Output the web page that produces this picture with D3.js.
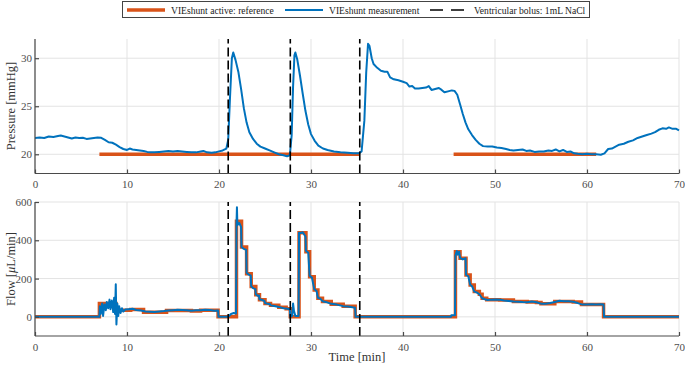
<!DOCTYPE html>
<html><head><meta charset="utf-8">
<script src="https://cdn.jsdelivr.net/npm/d3@7"></script>
<style>
body{margin:0;background:#fff;}
svg text{font-family:"Liberation Serif","Times New Roman",serif !important;}
</style></head>
<body><svg id="c" width="685" height="365"></svg>
<script>
const xTicks=[0,10,20,30,40,50,60,70];
const pTicks=[20,25,30];
const fTicks=[0,200,400,600];
const boluses=[21,27.75,35.3];
const legendLabels=["VIEshunt active: reference","VIEshunt measurement","Ventricular bolus: 1mL NaCl"];
// reference pressure segments (active periods)
const refPStart=[7,45.5];
const refPEnd=[35.3,61];
const refPLevel=[20,20];
// measured pressure
const pT=[0,0.5,1,1.5,2,2.5,2.8,3.2,3.6,4,4.4,4.8,5.2,5.6,6,6.4,6.8,7.2,7.6,8,8.4,8.8,9.2,9.6,10,10.3,10.6,11,11.4,11.8,12.2,12.6,13,13.5,14,14.5,15,15.5,16,16.5,17,17.5,18,18.3,18.7,19.2,19.6,20,20.4,20.8,21.0,21.2,21.4,21.55,21.8,22.1,22.4,22.7,23.0,23.3,23.7,24.1,24.5,25,25.5,26,26.5,27,27.4,27.7,27.9,28.05,28.2,28.3,28.5,28.8,29.1,29.4,29.7,30,30.4,30.8,31.3,31.8,32.5,33.2,34,34.6,35.2,35.5,35.8,36.0,36.2,36.35,36.6,36.8,37.2,37.6,38.0,38.3,38.6,39.0,39.5,40.0,40.4,40.7,41.0,41.3,41.7,42.1,42.5,42.8,43.1,43.5,43.9,44.2,44.5,44.9,45.3,45.6,45.9,46.2,46.5,46.8,47.1,47.5,47.9,48.3,48.7,49.2,49.7,50.2,50.7,51.2,51.6,52,52.5,53,53.4,53.8,54.3,54.8,55.3,55.8,56.2,56.6,57,57.4,57.8,58.2,58.6,59,59.5,60,60.5,61,61.5,61.9,62.3,62.7,63.1,63.5,64,64.5,65,65.5,66,66.5,67,67.4,67.8,68.2,68.6,68.9,69.3,69.7,70];
const pV=[21.7,21.75,21.7,21.85,21.8,21.9,21.95,21.85,21.75,21.65,21.75,21.7,21.72,21.6,21.65,21.7,21.75,21.72,21.5,21.25,21.2,21.0,20.75,20.55,20.45,20.6,20.5,20.45,20.4,20.35,20.25,20.2,20.2,20.25,20.3,20.35,20.3,20.35,20.3,20.25,20.2,20.2,20.3,20.35,20.2,20.15,20.2,20.3,20.4,20.6,21.5,26,30,30.6,29.8,28.6,26.8,24.8,23.3,22.3,21.6,21.1,20.8,20.6,20.4,20.2,20.0,19.9,19.8,19.9,22,27,30.3,30.6,29.9,28.2,26.3,24.5,23.1,22.1,21.4,20.9,20.6,20.45,20.3,20.2,20.15,20.1,20.1,20.3,23.5,28.5,31.5,31.3,30.0,29.4,29.0,28.7,28.6,28.6,28.0,27.8,27.7,27.55,27.4,27.05,27.1,26.85,26.85,26.9,26.95,27.1,26.7,26.8,26.9,26.7,26.45,26.55,26.65,26.6,26.2,25.2,24.2,23.3,22.6,22.0,21.5,21.1,20.85,20.8,20.82,20.7,20.65,20.55,20.45,20.4,20.45,20.5,20.35,20.4,20.25,20.3,20.3,20.4,20.35,20.5,20.3,20.45,20.25,20.3,20.1,20.05,20.0,20.05,20.0,20.0,19.95,20.1,20.55,20.6,20.8,21.0,21.1,21.3,21.45,21.7,21.85,22.0,22.15,22.3,22.55,22.7,22.65,22.8,22.65,22.65,22.5];
// reference flow (step after)
const rfT=[0,7,8.8,10.4,11.8,14.3,17,18,19.9,21.9,22.45,23.0,23.5,24.0,24.4,25.0,25.6,26.5,27.3,27.75,28.7,29.45,29.85,30.35,30.75,31.25,32.2,33.5,34.8,45.7,46.2,46.85,47.3,47.75,48.3,48.6,49.1,50.5,52,53.5,54.5,55,56.5,58.5,59.4,61.8,70];
const rfV=[0,70,35,38,24,33,30,34,0,500,365,225,158,115,89,70,60,50,42,0,440,340,210,140,97,80,66,55,0,340,306,219,167,132,118,97,90,88,80,78,75,68,80,78,65,0,0];
// measured flow
const mfT=[0,7.0,7.05,7.15,7.3,7.4,7.55,7.7,7.8,7.95,8.1,8.2,8.35,8.5,8.6,8.7,8.78,8.85,8.95,9.05,9.15,9.3,9.45,9.6,9.8,10.2,10.6,11.0,11.5,12.0,12.5,13.0,13.5,14.0,14.5,15.0,15.5,16.0,16.5,17.0,17.5,18.0,18.5,19.0,19.5,19.9,19.95,20.5,21.0,21.3,21.6,21.85,21.9,21.95,22.0,22.2,22.4,22.45,22.7,22.95,23.0,23.2,23.45,23.5,23.7,23.95,24.0,24.2,24.35,24.4,24.7,24.95,25.0,25.3,25.55,25.6,26.0,26.5,27.0,27.3,27.7,27.75,27.95,28.05,28.15,28.3,28.65,28.7,28.9,29.1,29.4,29.45,29.7,29.85,30.1,30.35,30.6,30.75,31.0,31.25,31.6,32.2,32.8,33.5,34.0,34.5,34.8,34.85,45.2,45.25,45.65,45.7,45.85,45.95,46.1,46.2,46.5,46.8,46.85,47.1,47.3,47.5,47.75,48.0,48.3,48.6,48.9,49.2,49.6,50.1,50.6,51.0,51.5,52.0,52.5,53.0,53.5,54.0,54.5,55.0,55.5,56.0,56.5,57.0,57.5,58.0,58.5,59.0,59.5,60.0,60.5,61.0,61.5,61.8,61.85,70];
const mfV=[0,0,55,15,70,5,65,35,78,45,90,40,85,25,100,15,170,-40,70,5,55,20,45,28,38,40,42,36,33,28,27,26,28,30,33,35,37,36,34,32,34,35,37,36,32,33,0,0,0,15,20,18,480,572,480,490,470,365,355,350,230,222,215,160,150,145,118,110,112,92,88,82,72,68,66,60,57,52,45,44,40,0,5,70,30,5,5,440,438,442,420,345,335,215,205,145,135,100,95,82,78,68,64,56,54,50,48,0,0,8,8,320,344,325,340,308,300,306,220,212,168,160,132,128,118,97,92,88,90,91,89,86,83,80,79,77,76,80,76,69,68,72,78,84,82,81,79,72,64,65,66,65,66,65,0,0];

const blue="#0072BD", orange="#D95319", gridC="#e3e3e3", axisC="#4a4a4a", txtC="#4d4d4d";
const FONT='"Liberation Serif","Times New Roman",serif';
const svg=d3.select("#c");
const X0=35,X1=679;
const x=d3.scaleLinear().domain([0,70]).range([X0,X1]);
const yP=d3.scaleLinear().domain([18,32]).range([173.5,39]);
const yF=d3.scaleLinear().domain([-100,600]).range([336,202]);

function panel(y,ticks,id){
  const [yb,yt]=y.range();
  const g=svg.append("g");
  g.selectAll(".gx").data(xTicks).join("line").attr("x1",d=>x(d)).attr("x2",d=>x(d)).attr("y1",yb).attr("y2",yt).attr("stroke",gridC).attr("stroke-width",1);
  g.selectAll(".gy").data(ticks).join("line").attr("x1",X0).attr("x2",X1).attr("y1",d=>y(d)).attr("y2",d=>y(d)).attr("stroke",gridC).attr("stroke-width",1);
  svg.append("clipPath").attr("id",id).append("rect").attr("x",X0).attr("y",yt-3).attr("width",X1-X0+1).attr("height",yb-yt+3);
  return g;
}
function axes(y,ticks){
  const [yb,yt]=y.range();
  const ax=svg.append("g").attr("transform",`translate(0,${yb})`).call(d3.axisBottom(x).tickValues(xTicks).tickSizeInner(-4).tickSizeOuter(0).tickPadding(7));
  const ay=svg.append("g").attr("transform",`translate(${X0},0)`).call(d3.axisLeft(y).tickValues(ticks).tickSizeInner(-4).tickSizeOuter(0).tickPadding(3));
  [ax,ay].forEach(a=>{
    a.attr("font-family",null).style("font-family",FONT);
    a.select(".domain").attr("stroke",axisC).attr("stroke-width",1.2);
    a.selectAll(".tick line").attr("stroke",axisC).attr("stroke-width",1.2);
    a.selectAll("text").attr("fill",txtC).attr("font-size",11).style("font-family",FONT);
  });
  ay.select(".domain").attr("d",`M0,${yb}V${yt}`);
  ax.select(".domain").attr("d",`M${X0},0H${X1}`);
}
// top panel
panel(yP,pTicks,"cp");
const gP=svg.append("g").attr("clip-path","url(#cp)");
gP.selectAll(".ref").data(refPStart).join("line").attr("x1",d=>x(d)).attr("x2",(d,i)=>x(refPEnd[i])).attr("y1",(d,i)=>yP(refPLevel[i])).attr("y2",(d,i)=>yP(refPLevel[i])).attr("stroke",orange).attr("stroke-width",3.5);
const lineP=d3.line().x(d=>x(d[0])).y(d=>yP(d[1]));
gP.append("path").datum(pT.map((t,i)=>[t,pV[i]])).attr("d",lineP).attr("fill","none").attr("stroke",blue).attr("stroke-width",2).attr("stroke-linejoin","round");
gP.selectAll(".bol").data(boluses).join("line").attr("x1",d=>x(d)).attr("x2",d=>x(d)).attr("y1",yP.range()[0]).attr("y2",yP.range()[1]).attr("stroke","#000").attr("stroke-width",1.6).attr("stroke-dasharray","9,4");
axes(yP,pTicks);

// bottom panel
panel(yF,fTicks,"cf");
const gF=svg.append("g").attr("clip-path","url(#cf)");
const lineStep=d3.line().x(d=>x(d[0])).y(d=>yF(d[1])).curve(d3.curveStepAfter);
const lineF=d3.line().x(d=>x(d[0])).y(d=>yF(d[1]));
gF.append("path").datum(rfT.map((t,i)=>[t,rfV[i]])).attr("d",lineStep).attr("fill","none").attr("stroke",orange).attr("stroke-width",3.5);
gF.append("path").datum(mfT.map((t,i)=>[t,mfV[i]])).attr("d",lineF).attr("fill","none").attr("stroke",blue).attr("stroke-width",2).attr("stroke-linejoin","round");
gF.selectAll(".bol").data(boluses).join("line").attr("x1",d=>x(d)).attr("x2",d=>x(d)).attr("y1",yF.range()[0]).attr("y2",yF.range()[1]).attr("stroke","#000").attr("stroke-width",1.6).attr("stroke-dasharray","9,4");
axes(yF,fTicks);

// axis labels
svg.append("text").attr("transform","translate(15,106) rotate(-90)").attr("text-anchor","middle").attr("font-size",12.5).attr("fill","#333").text("Pressure [mmHg]");
const fl=svg.append("text").attr("transform","translate(15,269) rotate(-90)").attr("text-anchor","middle").attr("font-size",12.5).attr("fill","#333");
fl.append("tspan").text("Flow [");
fl.append("tspan").attr("font-style","italic").text("μ");
fl.append("tspan").text("L/min]");
svg.append("text").attr("x",357).attr("y",361).attr("text-anchor","middle").attr("font-size",12.5).attr("fill","#333").text("Time [min]");

// legend
const lg=svg.append("g");
lg.append("rect").attr("x",122.5).attr("y",1.5).attr("width",467).attr("height",16).attr("fill","#fff").attr("stroke","#444").attr("stroke-width",1);
const legX=[127,285,430];
const legStyles=[{c:orange,w:3.5,d:null},{c:blue,w:2,d:null},{c:"#000",w:1.6,d:"13,8"}];
legendLabels.forEach((lab,i)=>{
  const s=legStyles[i];
  const l=lg.append("line").attr("x1",legX[i]).attr("x2",legX[i]+38).attr("y1",10).attr("y2",10).attr("stroke",s.c).attr("stroke-width",s.w);
  if(s.d) l.attr("stroke-dasharray",s.d);
  lg.append("text").attr("x",legX[i]+44).attr("y",13.5).attr("font-size",9.6).attr("fill","#222").text(lab);
});
</script></body></html>
